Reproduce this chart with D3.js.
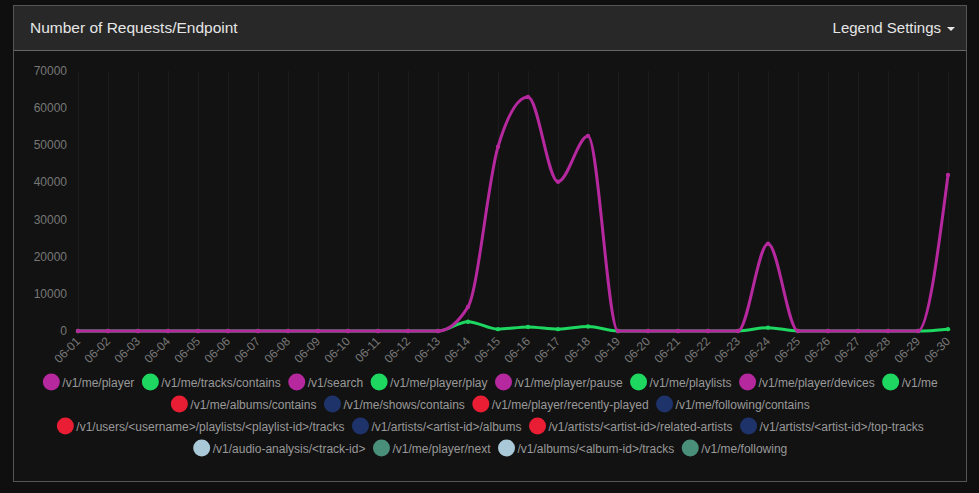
<!DOCTYPE html>
<html><head><meta charset="utf-8">
<script src="https://cdn.jsdelivr.net/npm/d3@7"></script>
<style>
body{margin:0;background:#0f0f0f;font-family:"Liberation Sans",Arial,sans-serif;}
</style></head><body>
<svg id="c" width="979" height="493"></svg>
<script>
const dates = d3.range(1,31).map(d=>"06-"+String(d).padStart(2,"0"));
const yTicks = [0,10000,20000,30000,40000,50000,60000,70000];
const playerVals = [0,0,0,0,0,0,0,0,0,0,0,0,0,6500,49600,63000,40200,52500,0,0,0,0,0,23500,0,0,0,0,0,42000];
const tracksContainsVals = [0,0,0,0,0,0,0,0,0,0,0,0,0,2500,500,1100,500,1200,0,0,0,0,0,900,0,0,0,0,0,500];
const legendRows = [
 [["/v1/me/player","#b5289e"],["/v1/me/tracks/contains","#1ed760"],["/v1/search","#b5289e"],["/v1/me/player/play","#1ed760"],["/v1/me/player/pause","#b5289e"],["/v1/me/playlists","#1ed760"],["/v1/me/player/devices","#b5289e"],["/v1/me","#1ed760"]],
 [["/v1/me/albums/contains","#e91e35"],["/v1/me/shows/contains","#1f336b"],["/v1/me/player/recently-played","#e91e35"],["/v1/me/following/contains","#1f336b"]],
 [["/v1/users/<username>/playlists/<playlist-id>/tracks","#e91e35"],["/v1/artists/<artist-id>/albums","#1f336b"],["/v1/artists/<artist-id>/related-artists","#e91e35"],["/v1/artists/<artist-id>/top-tracks","#1f336b"]],
 [["/v1/audio-analysis/<track-id>","#a9c9d8"],["/v1/me/player/next","#4a8f7a"],["/v1/albums/<album-id>/tracks","#a9c9d8"],["/v1/me/following","#4a8f7a"]]
];
const svg=d3.select("#c");
svg.append("rect").attr("x",13.5).attr("y",5.5).attr("width",953).attr("height",476).attr("fill","#121212").attr("stroke","#555");
svg.append("rect").attr("x",14).attr("y",6).attr("width",952).attr("height",44).attr("fill","#282828");
svg.append("line").attr("x1",14).attr("x2",966).attr("y1",50.5).attr("y2",50.5).attr("stroke","#666");
svg.append("text").attr("x",30).attr("y",33).attr("fill","#e6e6e6").attr("font-size",15.5).text("Number of Requests/Endpoint");
svg.append("text").attr("x",941).attr("y",33).attr("fill","#e6e6e6").attr("font-size",15).attr("text-anchor","end").text("Legend Settings");
svg.append("path").attr("d","M947,27 l8,0 l-4,4 z").attr("fill","#e6e6e6");

const x=d3.scalePoint().domain(dates).range([78,948]);
const y=d3.scaleLinear().domain([0,70000]).range([331,71]);
const g=svg.append("g");
g.selectAll(".vg").data(dates).join("line").attr("x1",d=>x(d)+.5).attr("x2",d=>x(d)+.5).attr("y1",71).attr("y2",331).attr("stroke","#1b1b1b");
g.selectAll(".yt").data(yTicks).join("text").attr("x",67).attr("y",d=>y(d)+4).attr("text-anchor","end").attr("fill","#777").attr("font-size",12).text(d=>d);
g.selectAll(".xt").data(dates).join("text").attr("transform",d=>`translate(${x(d)+3},${342}) rotate(-45)`).attr("text-anchor","end").attr("fill","#777").attr("font-size",12).text(d=>d);
const line=d3.line().x((d,i)=>x(dates[i])).y(d=>y(d)).curve(d3.curveMonotoneX);
[[tracksContainsVals,"#1ed760"],[playerVals,"#b5289e"]].forEach(([v,c])=>{
 g.append("path").attr("d",line(v)).attr("fill","none").attr("stroke",c).attr("stroke-width",3);
 g.selectAll(null).data(v).join("circle").attr("cx",(d,i)=>x(dates[i])).attr("cy",d=>y(d)).attr("r",2.2).attr("fill",c);
});
const ly=[382,404,426,448];
legendRows.forEach((row,ri)=>{
 const lg=svg.append("g");
 let cx=0;
 row.forEach(([t,c])=>{
  lg.append("circle").attr("cx",cx+9).attr("cy",0).attr("r",8.5).attr("fill",c);
  const tx=lg.append("text").attr("x",cx+20).attr("y",4.5).attr("fill","#999").attr("font-size",12).text(t);
  cx+=20+tx.node().getComputedTextLength()+7;
 });
 cx-=7;
 lg.attr("transform",`translate(${490-cx/2},${ly[ri]})`);
});
</script></body></html>
